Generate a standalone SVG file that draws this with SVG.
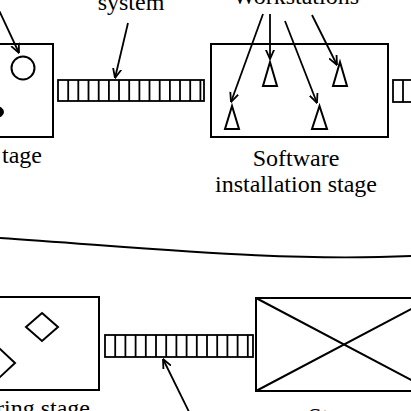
<svg xmlns="http://www.w3.org/2000/svg" width="411" height="411" viewBox="0 0 411 411">
<style>
.box{fill:none;stroke:#000;stroke-width:2}
.conv{fill:none;stroke:#000;stroke-width:1.8}
.ln{fill:none;stroke:#000;stroke-width:1.8}
.lbl{font-family:"Liberation Serif","Times New Roman",serif;font-size:24px;fill:#000}
</style>
<defs>
<marker id="arr" viewBox="0 0 10 10" refX="9.5" refY="5" markerWidth="10" markerHeight="10" markerUnits="userSpaceOnUse" orient="auto">
<path d="M0,0.8 L9.5,5 L0,9.2" fill="none" stroke="#000" stroke-width="1.8"/>
</marker>
</defs>
<rect width="411" height="411" fill="#fff"/>

<g id="stage1">
<rect class="box" x="-10" y="44" width="63" height="93"/>
<circle cx="23" cy="68" r="11.5" fill="none" stroke="#000" stroke-width="2"/>
<ellipse cx="-4" cy="112" rx="8" ry="6" fill="#000"/>
<text class="lbl" x="42" y="163" text-anchor="end">tage</text>
</g>

<g id="conveyor-top">
<rect class="conv" x="58" y="80" width="146" height="21"/>
<path class="conv" d="M68.2,80V101M78.3,80V101M88.5,80V101M98.7,80V101M108.9,80V101M119,80V101M129.2,80V101M139.4,80V101M149.5,80V101M159.7,80V101M169.9,80V101M180,80V101M190.2,80V101M200.4,80V101"/>
<text class="lbl" x="131" y="10" text-anchor="middle">system</text>
</g>

<g id="stage-software">
<rect class="box" x="211" y="44" width="177" height="93"/>
<path class="box" d="M270,62 L263,86 L277,86 Z"/>
<path class="box" d="M340,62 L333,86 L347,86 Z"/>
<path class="box" d="M232,106 L225,129 L239,129 Z"/>
<path class="box" d="M319.5,106 L312,129 L327,129 Z"/>
<text class="lbl" x="296" y="4" text-anchor="middle">Workstations</text>
<text class="lbl" x="296" y="166" text-anchor="middle">Software</text>
<text class="lbl" x="296" y="192" text-anchor="middle">installation stage</text>
</g>

<g id="conveyor-right">
<rect class="conv" x="393" y="80" width="30" height="22"/>
<path class="conv" d="M403,80V102"/>
</g>

<g id="divider">
<path class="ln" d="M0,238 C150,248 280,262 411,256"/>
</g>

<g id="stage-bottom-left">
<rect class="box" x="-10" y="297" width="109" height="93"/>
<path class="box" d="M42,313 L58,327 L42,341 L26,327 Z"/>
<path class="box" d="M0,349 L15,363 L0,377 L-15,363 Z"/>
<text class="lbl" x="90" y="416" text-anchor="end">ring stage</text>
</g>

<g id="conveyor-bottom">
<rect class="conv" x="105" y="335" width="148" height="22"/>
<path class="conv" d="M115.2,335V357M125.4,335V357M135.6,335V357M145.8,335V357M156,335V357M166.2,335V357M176.4,335V357M186.6,335V357M196.8,335V357M207,335V357M217.2,335V357M227.4,335V357M237.6,335V357M247.8,335V357"/>
</g>

<g id="storage">
<rect class="box" x="256" y="298" width="176" height="93"/>
<path class="box" d="M256,298 L432,391 M256,391 L432,298"/>
<text class="lbl" x="345" y="424" text-anchor="middle">Storage</text>
</g>

<g id="connectors">
<path class="ln" d="M-3,6 L19,53" marker-end="url(#arr)"/>
<path class="ln" d="M128,23 L115,78" marker-end="url(#arr)"/>
<path class="ln" d="M270,14 L270,59" marker-end="url(#arr)"/>
<path class="ln" d="M263,14 L231,102" marker-end="url(#arr)"/>
<path class="ln" d="M285,21 L317,103" marker-end="url(#arr)"/>
<path class="ln" d="M312,15 L337,65" marker-end="url(#arr)"/>
<path class="ln" d="M193,420 L163,359" marker-end="url(#arr)"/>
</g>
</svg>
